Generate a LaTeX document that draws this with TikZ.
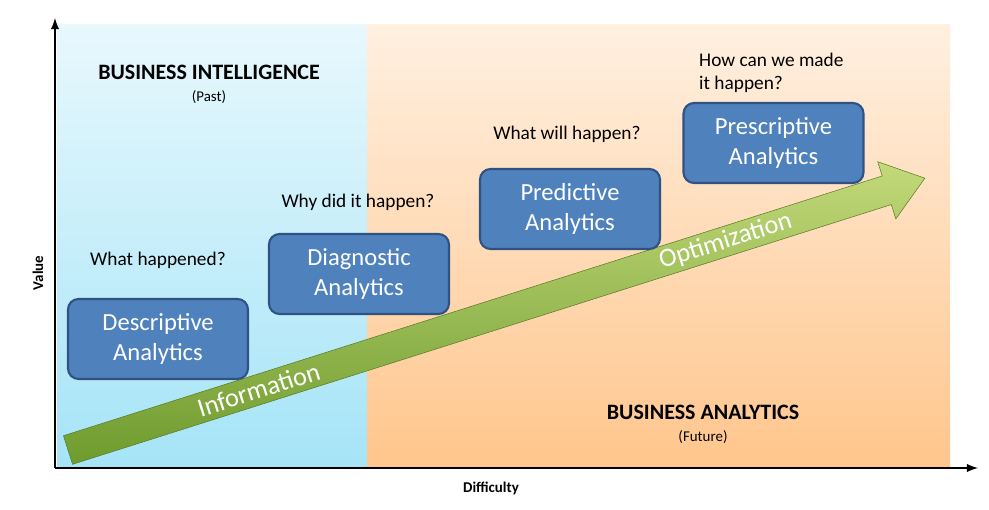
\documentclass[tikz,border=0pt]{standalone}
\usepackage{fontspec}
\setmainfont{Carlito}
\usetikzlibrary{positioning}
\definecolor{boxblue}{HTML}{4F81BD}
\definecolor{boxedge}{HTML}{2F5283}
\definecolor{arrowlight}{HTML}{C3D97A}
\definecolor{arrowdark}{HTML}{6E9B2E}
\definecolor{bitop}{HTML}{E8F8FD}
\definecolor{bibottom}{HTML}{A5E4F7}
\tikzset{
  anbox/.style={draw=boxedge, line width=1.2pt, fill=boxblue, rounded corners=6pt,
    minimum width=3.6cm, minimum height=1.6cm, align=center, text=white,
    font=\fontsize{14}{17}\selectfont},
  question/.style={font=\fontsize{11}{13}\selectfont, align=left},
  areatitle/.style={font=\fontsize{12.5}{15}\selectfont\bfseries},
  arealabel/.style={font=\fontsize{8.5}{10}\selectfont}
}
\begin{document}
\begin{tikzpicture}
\useasboundingbox (0,0) rectangle (19.78,10.18);

% Areas
\shade[top color=bitop, bottom color=bibottom] (1.14,0.82) rectangle (7.34,9.68);
\shade[top color=orange!12!white, bottom color=orange!45!white] (7.34,0.82) rectangle (19.0,9.68);

% Axes
\coordinate (origin) at (1.1,0.82);
\coordinate (ytop) at (1.1,9.82);
\coordinate (xend) at (19.56,0.82);
\draw[line width=1.2pt, -latex] (origin) -- (ytop);
\draw[line width=1.2pt, -latex] (origin) -- (xend);
\node[font=\fontsize{8.5}{10}\selectfont\bfseries, rotate=90] (value) at (0.76,4.72) {Value};
\node[font=\fontsize{8.5}{10}\selectfont\bfseries] (difficulty) at (9.82,0.42) {Difficulty};

% Big arrow
\begin{scope}[shift={(1.36,1.18)}, rotate=17.6]
  \shade[top color=arrowlight, bottom color=arrowdark, draw=arrowdark!80!black, line width=0.3pt]
    (0,-0.3) -- (17.18,-0.3) -- (17.18,-0.6) -- (17.98,0) -- (17.18,0.6) -- (17.18,0.3) -- (0,0.3) -- cycle;
  \node[text=white, font=\fontsize{15}{18}\selectfont, rotate=17.6] (info) at (4.0,0) {Information};
  \node[text=white, font=\fontsize{15}{18}\selectfont, rotate=17.6] (optim) at (13.8,0) {Optimization};
\end{scope}

% Boxes
\node[anbox] (descriptive) at (3.16,3.4) {Descriptive\\Analytics};
\node[anbox] (diagnostic) at (7.18,4.7) {Diagnostic\\Analytics};
\node[anbox] (predictive) at (11.4,6.0) {Predictive\\Analytics};
\node[anbox] (prescriptive) at (15.47,7.32) {Prescriptive\\Analytics};

% Questions
\node[question] (q1) at (3.16,4.98) {What happened?};
\node[question] (q2) at (7.16,6.14) {Why did it happen?};
\node[question] (q3) at (11.34,7.5) {What will happen?};
\node[question, anchor=west] (q4) at (13.86,8.73) {How can we made\\it happen?};

% Area titles
\node[areatitle] (bi) at (4.18,8.74) {BUSINESS INTELLIGENCE};
\node[arealabel] (past) at (4.18,8.24) {(Past)};
\node[areatitle] (ba) at (14.06,1.94) {BUSINESS ANALYTICS};
\node[arealabel] (future) at (14.06,1.44) {(Future)};
\end{tikzpicture}
\end{document}
